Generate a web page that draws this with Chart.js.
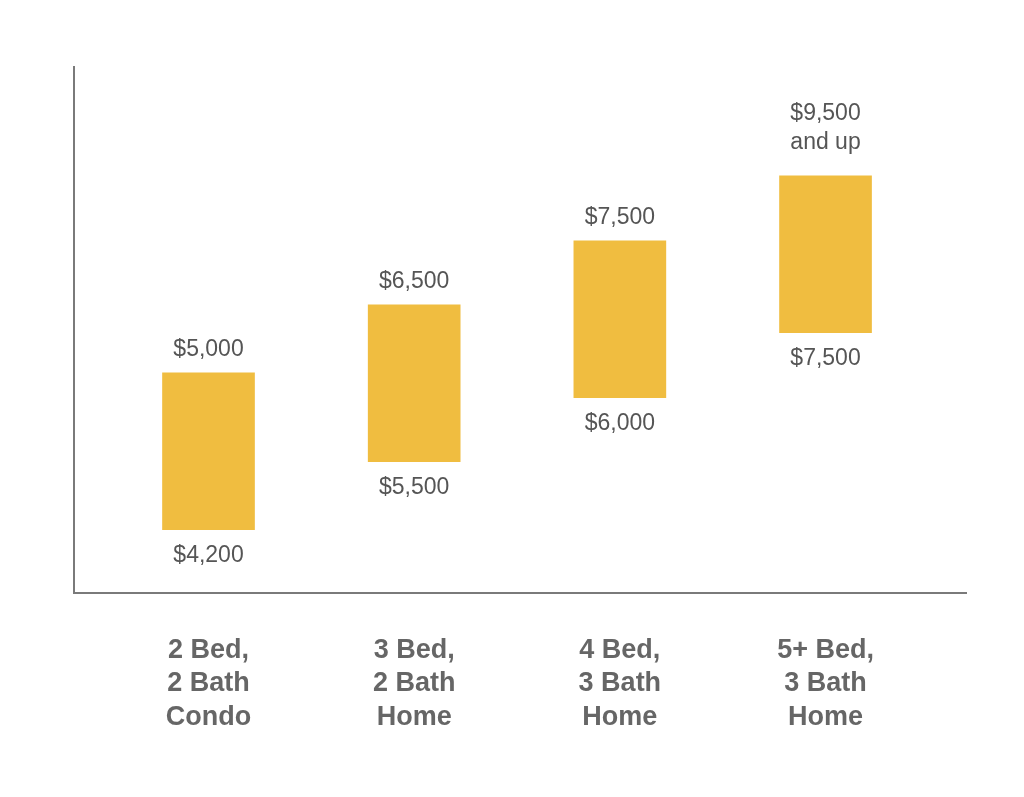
<!DOCTYPE html>
<html>
<head>
<meta charset="utf-8">
<script src="https://cdn.jsdelivr.net/npm/chart.js@4"></script>
<style>
  html, body { margin: 0; padding: 0; background: #fff; }
  #wrap { width: 1024px; height: 797px; }
</style>
</head>
<body>
<div id="wrap"><canvas id="rentChart"></canvas></div>
<script>
/* home types */
const categories = [
  ["2 Bed,", "2 Bath", "Condo"],
  ["3 Bed,", "2 Bath", "Home"],
  ["4 Bed,", "3 Bath", "Home"],
  ["5+ Bed,", "3 Bath", "Home"]
];

/* price labels shown under / over each bar */
const lowLabels = ["$4,200", "$5,500", "$6,000", "$7,500"];
const highLabels = [["$5,000"], ["$6,500"], ["$7,500"], ["$9,500", "and up"]];

/* bars are schematic (same height, stepping up), so they sit on a plain 0-526 level scale */
const barLow = [63, 131, 195, 260];
const barHigh = [220, 288, 352, 417];

const FONT = "'Liberation Sans', Arial, Helvetica, sans-serif";

/* draw the price text at the ends of each bar */
const priceLabels = {
  id: "priceLabels",
  afterDatasetsDraw(chart) {
    const { ctx } = chart;
    const meta = chart.getDatasetMeta(0);
    ctx.save();
    ctx.font = "23px " + FONT;
    ctx.fillStyle = "#555555";
    ctx.textAlign = "center";
    ctx.textBaseline = "middle";
    meta.data.forEach((bar, i) => {
      const top = Math.min(bar.y, bar.base);
      const bottom = Math.max(bar.y, bar.base);
      const hi = highLabels[i];
      const gap = hi.length > 1 ? 33 : 23;
      hi.forEach((line, k) => {
        ctx.fillText(line, bar.x, top - gap - (hi.length - 1 - k) * 29);
      });
      ctx.fillText(lowLabels[i], bar.x, bottom + 26);
    });
    ctx.restore();
  }
};

new Chart(document.getElementById("rentChart"), {
  type: "bar",
  data: {
    datasets: [{
      data: barLow.map((lo, i) => ({ x: i, y: [lo, barHigh[i]] })),
      backgroundColor: "#F0BD40",
      borderWidth: 0,
      barThickness: 92
    }]
  },
  options: {
    responsive: true,
    maintainAspectRatio: false,
    animation: false,
    layout: { padding: { left: 66, right: 58, top: 67, bottom: 30 } },
    plugins: {
      legend: { display: false },
      tooltip: { enabled: false }
    },
    scales: {
      x: {
        type: "linear",
        offset: false,
        min: -0.654,
        max: 3.683,
        afterBuildTicks: axis => {
          axis.ticks = categories.map((c, i) => ({ value: i }));
        },
        ticks: {
          autoSkip: false,
          maxRotation: 0,
          padding: 33,
          color: "#666666",
          font: { family: FONT, size: 27, weight: "bold", lineHeight: 1.24 },
          callback: value => categories[value]
        },
        grid: { display: false },
        border: { display: true, color: "#7a7a7a", width: 2 }
      },
      y: {
        min: 0,
        max: 526,
        ticks: { display: false },
        grid: { display: false },
        border: { display: true, color: "#7a7a7a", width: 2 }
      }
    }
  },
  plugins: [priceLabels]
});
</script>
</body>
</html>
